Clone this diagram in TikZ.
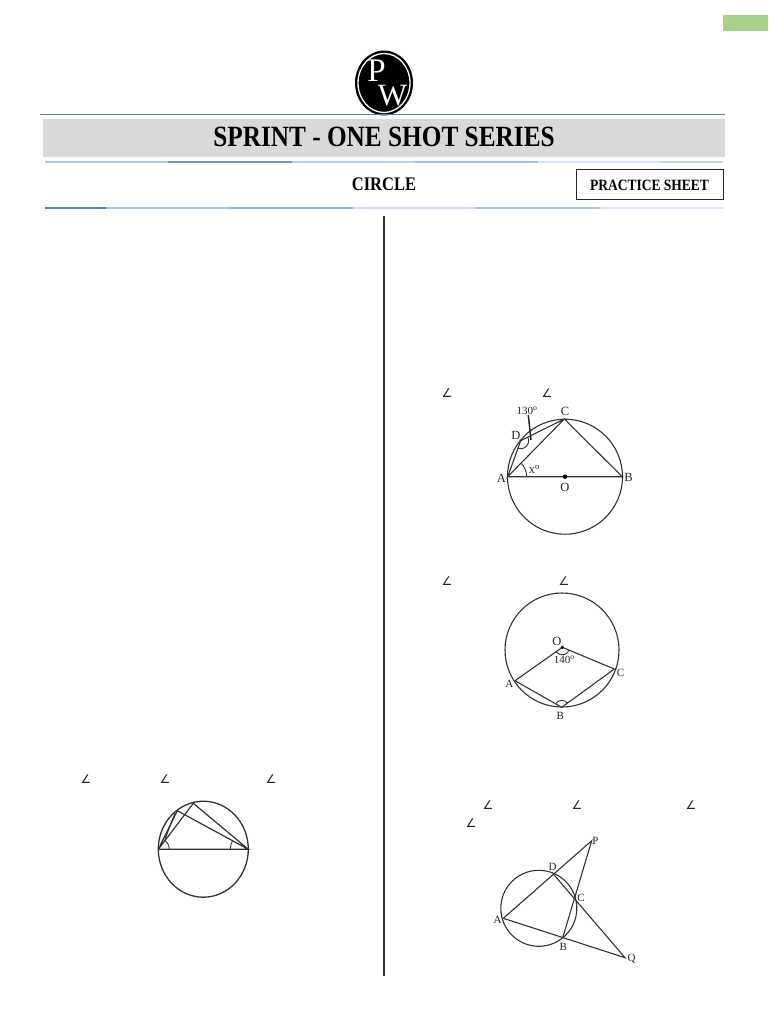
\documentclass[tikz,border=0pt]{standalone}
\usepackage{fontspec}
\usetikzlibrary{calc}
\setmainfont{Liberation Serif}
\newfontfamily\headfont[FakeStretch=0.86]{Liberation Serif}
\newfontfamily\angfont{DejaVu Sans}
\tikzset{
  geo/.style={draw=black!80,line width=1.1pt},
  mark arc/.style={draw=black!80,line width=0.9pt},
  lab/.style={inner sep=0pt,font=\fontsize{12.5}{13}\selectfont,text=black!85},
  smalllab/.style={inner sep=0pt,font=\fontsize{11}{12}\selectfont,text=black!85},
  ang/.style={inner sep=0pt,font=\angfont\fontsize{12}{13}\selectfont,text=black!85},
}
\begin{document}
\begin{tikzpicture}[x=1pt,y=-1pt]
\useasboundingbox (0,0) rectangle (768,1024);
\fill[white] (0,0) rectangle (768,1024);
% corner tab
\fill[fill={rgb,255:red,169;green,209;blue,142}] (723,15) rectangle (768,31);
% logo
\fill[black] (384,83) ellipse [x radius=29,y radius=32.5];
\draw[white,line width=1.3pt] (384,83) ellipse [x radius=26,y radius=29.5];
\node[inner sep=0pt,text=white,font=\fontsize{33}{33}\selectfont] (logoP) at (376.5,70.5) {P};
\node[inner sep=0pt,text=white,font=\fontsize{31}{31}\selectfont] (logoW) at (392.5,96) {W};
% header rules
\draw[line width=1pt,draw={rgb,255:red,90;green,130;blue,205}] (40,115) -- (725,115);
\fill[fill={rgb,255:red,217;green,217;blue,217}] (43,119) rectangle (725,157);
\node[inner sep=0pt,font=\headfont\bfseries\fontsize{29.4}{30}\selectfont] (title) at (384,136.5) {SPRINT - ONE SHOT SERIES};
\foreach \a/\b/\c in {45/168/AEC6EE,168/292/6C93DC,292/415/B8CDF0,415/538/A0BCEC,538/660/D5E2F7,660/723/BFD1F1}{
  \definecolor{seg}{HTML}{\c}
  \draw[seg,line width=1.1pt] (\a,162) -- (\b,162);
}
\node[inner sep=0pt,font=\headfont\bfseries\fontsize{19.2}{20}\selectfont] (topic) at (384,184) {CIRCLE};
\node[draw=black!85,line width=1pt,minimum width=147pt,minimum height=30pt,inner sep=0pt,font=\headfont\bfseries\fontsize{15.7}{16}\selectfont] (sheet) at (649.5,185) {PRACTICE SHEET};
\foreach \a/\b/\c in {45/106/4F80D8,106/230/A8C2EE,230/353/8FB0E8,353/476/CBDAF5,476/600/A8C2EE,600/723/D5E2F7}{
  \definecolor{seg}{HTML}{\c}
  \draw[seg,line width=1.1pt] (\a,208) -- (\b,208);
}
% divider
\draw[black!80,line width=1.1pt] (384,216) -- (384,976);

% angle signs
\foreach \n/\x/\y in {a1/86/779,a2/165/779,a3/271/779,a4/447/393,a5/547/393,a6/447/581,a7/564/581,a8/488/805,a9/577/805,a10/691/805,a11/471/823}{
  \node[ang] (\n) at (\x,\y) {∠};
}

% figure: semicircle with CD
\coordinate (A1) at (507.7,476.7);
\coordinate (B1) at (622.3,476.7);
\coordinate (C1) at (564.3,419);
\coordinate (D1) at (520.7,440.7);
\coordinate (O1) at (565,476.7);
\draw[geo] (O1) circle [radius=57.5];
\draw[geo] (A1) -- (B1) -- (C1) -- (A1) -- (D1) -- (C1);
\fill[black] (O1) circle [radius=2.2];
\draw[mark arc] ($(A1)+(19,0)$) arc [start angle=0,end angle=-45.5,radius=19];
\draw[mark arc] ($(D1)+(110:8)$) arc [start angle=110,end angle=-26,radius=8];
\coordinate (T1) at (528.3,415);
\coordinate (T2) at (531,440);
\draw[black!85,line width=1.5pt] (T1) -- (T2);
\node[lab] (lA1) at (501.5,478) {A};
\node[lab] (lB1) at (628.5,477.7) {B};
\node[lab] (lC1) at (565,411.7) {C};
\node[lab] (lD1) at (516,435.7) {D};
\node[lab] (lO1) at (565,487.3) {O};
\node[smalllab] (l130) at (527,410.5) {130$^{\mathrm{o}}$};
\node[lab] (lx) at (534.5,469.5) {x$^{\mathrm{o}}$};

% figure: 140
\coordinate (A2) at (515,680.7);
\coordinate (B2) at (561.7,707.3);
\coordinate (C2) at (614.3,669);
\coordinate (O2) at (562.3,647.3);
\draw[geo] (562,650) circle [radius=57];
\draw[geo] (A2) -- (O2) -- (C2) -- (B2) -- (A2);
\fill[black] (O2) circle [radius=1.8];
\draw[mark arc] ($(O2)+(145:7.5)$) arc [start angle=145,end angle=23,radius=7.5];
\draw[mark arc] ($(B2)+(-150:7)$) arc [start angle=-150,end angle=-36,radius=7];
\node[lab] (lO2) at (557,641.7) {O};
\node[smalllab] (l140) at (564.3,659.5) {140$^{\mathrm{o}}$};
\node[smalllab] (lA2) at (509.3,684) {A};
\node[smalllab] (lB2) at (560.3,715.5) {B};
\node[smalllab] (lC2) at (620.5,672.7) {C};

% figure: PQ
\coordinate (A3) at (503.3,918.3);
\coordinate (B3) at (562.7,937.7);
\coordinate (C3) at (574,898.3);
\coordinate (D3) at (552.7,873.3);
\coordinate (P3) at (591.7,840.7);
\coordinate (Q3) at (625,957.7);
\draw[geo] (538.8,908.3) circle [radius=38];
\draw[geo] (A3) -- (P3) -- (B3);
\draw[geo] (A3) -- (Q3) -- (D3);
\node[smalllab] (lP3) at (595.5,840.7) {P};
\node[smalllab] (lD3) at (552.7,867.3) {D};
\node[smalllab] (lC3) at (581,897.7) {C};
\node[smalllab] (lA3) at (497.7,920) {A};
\node[smalllab] (lB3) at (563.3,946.7) {B};
\node[smalllab] (lQ3) at (631.7,958.3) {Q};

% figure: left
\coordinate (L4) at (158.3,849.3);
\coordinate (R4) at (248.3,849.3);
\coordinate (P4) at (177.3,810.7);
\coordinate (S4) at (193.3,803.3);
\coordinate (U4) at (165,839);
\coordinate (V4) at (175,813.3);
\draw[geo,line width=1.3pt] (203.3,849.2) ellipse [x radius=45,y radius=48];
\draw[geo,line width=1.2pt] (L4) -- (R4) -- (P4) -- (L4) -- (S4) -- (R4);
\draw[geo] (U4) -- (V4);
\draw[mark arc] ($(L4)+(11,0)$) arc [start angle=0,end angle=-60,radius=11];
\draw[mark arc] ($(R4)+(-18,0)$) arc [start angle=180,end angle=209,radius=18];
\end{tikzpicture}
\end{document}
